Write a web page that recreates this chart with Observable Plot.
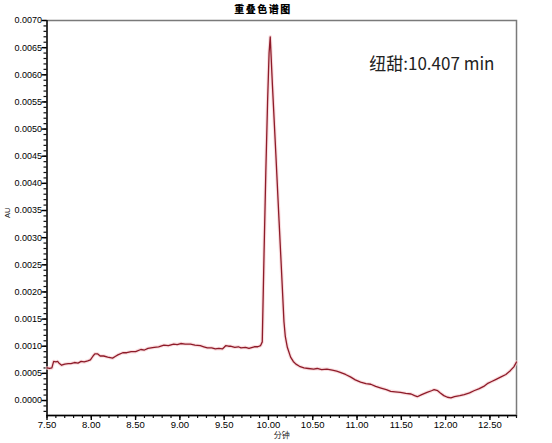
<!DOCTYPE html>
<html>
<head>
<meta charset="utf-8">
<script src="https://cdn.jsdelivr.net/npm/d3@7"></script>
<script src="https://cdn.jsdelivr.net/npm/@observablehq/plot@0.6"></script>
<style>
  html, body { margin: 0; padding: 0; background: #fff; }
  #wrap { width: 552px; height: 443px; position: relative; overflow: hidden; }
  #title { position: absolute; left: 263px; top: 3px; transform: translateX(-50%);
    font-family: "Noto Sans CJK SC", sans-serif; font-weight: 900; font-size: 10px;
    letter-spacing: 1.5px; line-height: 12px; white-space: nowrap; color: #000; }
  #chart { position: absolute; left: 0; top: 16px; }
</style>
</head>
<body>
<div id="wrap">
  <div id="title">重叠色谱图</div>
  <div id="chart"></div>
</div>
<script>
// ---- data ----
const xLabel = "分钟";
const yLabel = "AU";
const annotation = "纽甜:10.407 min";

const times = [
  7.50, 7.53, 7.555, 7.575, 7.60, 7.62, 7.64, 7.665, 7.70, 7.74, 7.77, 7.81, 7.85, 7.885, 7.92, 7.96, 7.99,
  8.02, 8.04, 8.07, 8.10, 8.14, 8.185, 8.24, 8.27, 8.30, 8.355, 8.40, 8.45, 8.50, 8.56, 8.60, 8.64, 8.71,
  8.76, 8.82, 8.87, 8.93, 8.97, 9.01, 9.06, 9.12, 9.17, 9.23, 9.27, 9.31, 9.36, 9.40, 9.44, 9.48, 9.50,
  9.517, 9.55, 9.57, 9.62, 9.66, 9.69, 9.74, 9.78, 9.84, 9.88, 9.91, 9.93, 9.95, 9.97, 9.99, 10.007,
  10.02, 10.045, 10.083, 10.12, 10.147, 10.175, 10.19, 10.213, 10.25, 10.28, 10.31, 10.35, 10.40, 10.45,
  10.51, 10.55, 10.60, 10.66, 10.72, 10.77, 10.81, 10.87, 10.93, 10.98, 11.04, 11.10, 11.155, 11.21,
  11.27, 11.33, 11.38, 11.43, 11.49, 11.55, 11.61, 11.65, 11.68, 11.73, 11.79, 11.84, 11.87, 11.91,
  11.94, 11.98, 12.02, 12.06, 12.10, 12.16, 12.21, 12.27, 12.32, 12.38, 12.43, 12.47, 12.52, 12.57,
  12.62, 12.68, 12.73, 12.77, 12.80
];
const au = [
  0.00060, 0.00059, 0.00060, 0.00072, 0.00071, 0.00072, 0.00068, 0.00065, 0.00067, 0.00068, 0.00068, 0.00070, 0.00069, 0.00072, 0.00071, 0.00073, 0.00075,
  0.00082, 0.00086, 0.00086, 0.00082, 0.00082, 0.00080, 0.00078, 0.00081, 0.00084, 0.00088, 0.00088, 0.00090, 0.00090, 0.00094, 0.00093, 0.00096, 0.00098,
  0.00099, 0.00102, 0.00101, 0.00104, 0.00103, 0.00105, 0.00104, 0.00104, 0.00102, 0.00101, 0.00099, 0.00097, 0.00097, 0.00095, 0.00096, 0.00095, 0.00098,
  0.00101, 0.00100, 0.00100, 0.00098, 0.00099, 0.00097, 0.00098, 0.00096, 0.00099, 0.00099, 0.00101, 0.00108, 0.00270, 0.00420, 0.00550, 0.00640,
  0.00670, 0.00580, 0.00455, 0.00330, 0.00240, 0.00145, 0.00118, 0.00098, 0.00080, 0.00072, 0.00067, 0.00063, 0.00060, 0.00059,
  0.00058, 0.00059, 0.00057, 0.00058, 0.00056, 0.00054, 0.00052, 0.00048, 0.00043, 0.00038, 0.00034, 0.00031, 0.00030, 0.00026,
  0.00023, 0.00020, 0.00017, 0.00016, 0.00015, 0.00013, 0.00012, 0.00009, 0.00007, 0.00011, 0.00015, 0.00018, 0.00020, 0.00018,
  0.00014, 0.00009, 0.00006, 0.00005, 0.00007, 0.00009, 0.00011, 0.00014, 0.00018, 0.00022, 0.00026, 0.00031, 0.00035, 0.00039,
  0.00043, 0.00048, 0.00055, 0.00062, 0.00071
];

const xTicks = [7.5, 8.0, 8.5, 9.0, 9.5, 10.0, 10.5, 11.0, 11.5, 12.0, 12.5];
const xMinorTicks = d3.range(75, 129).map(d => d / 10);
const yTicks = [0, 0.0005, 0.0010, 0.0015, 0.0020, 0.0025, 0.0030, 0.0035, 0.0040, 0.0045, 0.0050, 0.0055, 0.0060, 0.0065, 0.0070];
const yMinorTicks = d3.range(-2, 71).map(d => d / 10000);

const xDomain = [7.5, 12.8];
const yDomain = [-0.000276, 0.0070];

const data = times.map((t, i) => ({t, v: au[i]}));

const chart = Plot.plot({
  width: 552,
  height: 427,
  marginLeft: 46.5,
  marginRight: 36,
  marginTop: 4,
  marginBottom: 28,
  style: {fontFamily: "'Liberation Sans', Arial, sans-serif", fontSize: "9px", background: "#fff", color: "#000"},
  x: {domain: xDomain},
  y: {domain: yDomain},
  marks: [
    Plot.frame({stroke: "#7a7a7a", strokeWidth: 1.5}),
    Plot.axisX(xMinorTicks, {tickSize: 3, text: null, label: null, stroke: "#111", strokeWidth: 1.2}),
    Plot.axisX(xTicks, {tickSize: 5, tickPadding: 1, tickFormat: d3.format(".2f"), label: null, fontSize: 9.5, stroke: "#000", strokeWidth: 1.4}),
    Plot.axisY(yMinorTicks.filter(d => d >= yDomain[0]), {tickSize: 3, text: null, label: null, stroke: "#111", strokeWidth: 1.2}),
    Plot.axisY(yTicks, {tickSize: 5, tickPadding: 0, tickFormat: d3.format(".4f"), label: null, fontSize: 9, stroke: "#000", strokeWidth: 1.4}),
    Plot.ruleX([xDomain[0]], {stroke: "#000", strokeWidth: 1.3}),
    Plot.ruleY([yDomain[0]], {stroke: "#000", strokeWidth: 1.3}),
    Plot.line(data, {x: "t", y: "v", stroke: "#f6d0d3", strokeWidth: 3.5, strokeOpacity: 0.7}),
    Plot.line(data, {x: "t", y: "v", stroke: "#8e1b29", strokeWidth: 1.3}),
    Plot.text([annotation], {frameAnchor: "top-right", dx: -22, dy: 37, textAnchor: "end", fontSize: 17, fontFamily: "'Noto Sans CJK SC', sans-serif", fill: "#222"}),
    Plot.text([xLabel], {frameAnchor: "bottom", dy: 22, fontSize: 8, fontFamily: "'Noto Sans CJK SC', sans-serif", fill: "#222"}),
    Plot.text([yLabel], {frameAnchor: "left", dx: -39, rotate: -90, fontSize: 7.5, fill: "#222"})
  ]
});
document.getElementById("chart").appendChild(chart);
</script>
</body>
</html>
